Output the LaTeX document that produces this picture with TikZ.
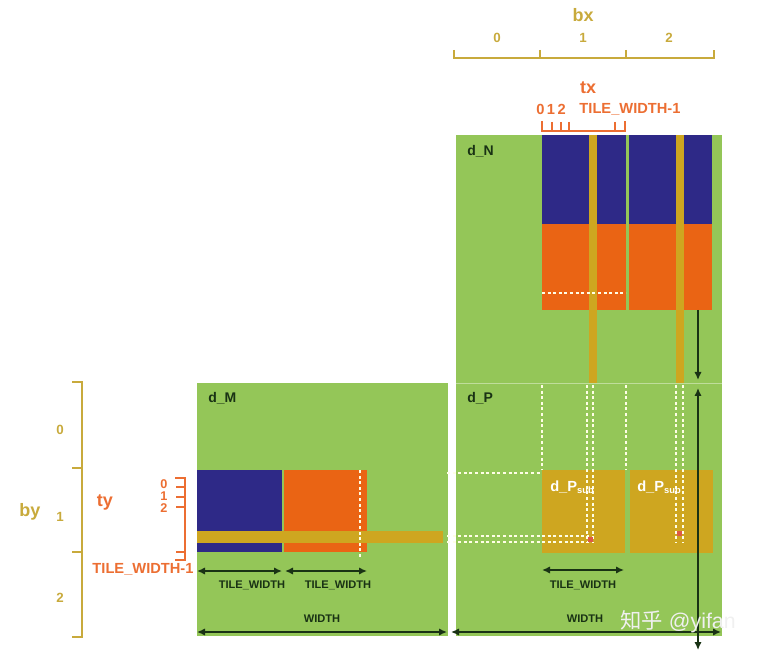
\documentclass[tikz,border=0pt]{standalone}
\usepackage{fontspec}
\setmainfont{Liberation Sans}
\newfontfamily\cjkfont{Noto Sans CJK SC}
\usepackage{tikz}
\usepackage{xcolor}
\usetikzlibrary{arrows.meta}

\definecolor{matgreen}{RGB}{148,198,88}
\definecolor{tileblue}{RGB}{46,41,135}
\definecolor{tileorange}{RGB}{234,100,20}
\definecolor{tileyellow}{RGB}{206,166,32}
\definecolor{idxgold}{RGB}{200,170,60}
\definecolor{idxorange}{RGB}{236,110,50}
\definecolor{dimline}{RGB}{25,50,20}
\definecolor{hitred}{RGB}{222,90,70}

\tikzset{
  dotline/.style={color=white!90!yellow, line width=0.8pt, dash pattern=on 2.2pt off 2pt},
  dimarrow/.style={color=dimline, line width=1.1pt, {Latex[length=6pt,width=5.5pt]}-{Latex[length=6pt,width=5.5pt]}},
  matname/.style={anchor=west, inner sep=0.75pt, text=dimline, font=\bfseries\fontsize{10.5}{12}\selectfont},
  dimname/.style={inner sep=0.75pt, text=dimline, font=\bfseries\fontsize{8.3}{10}\selectfont},
  goldidx/.style={inner sep=0.75pt, text=idxgold, font=\bfseries\fontsize{10}{12}\selectfont},
  goldvar/.style={inner sep=0.75pt, text=idxgold, font=\bfseries\fontsize{13.5}{15}\selectfont},
  orangeidx/.style={inner sep=0.75pt, text=idxorange, font=\bfseries\fontsize{11}{12}\selectfont},
  orangevar/.style={inner sep=0.75pt, text=idxorange, font=\bfseries\fontsize{13.5}{15}\selectfont},
  subname/.style={anchor=west, inner sep=0.75pt, text=white, font=\bfseries\fontsize{11}{12}\selectfont},
}

\begin{document}
\begin{tikzpicture}[x=0.75pt,y=0.75pt,yscale=-1,xscale=1]
    \useasboundingbox (0,0) rectangle (760,655);

    %Matrices
    \draw [draw=none, fill=matgreen] (456,135) rectangle (722,383) ;
    \draw [draw=none, fill=matgreen] (456,383) rectangle (722,636) ;
    \draw [draw=none, fill=matgreen] (197,383) rectangle (448,636) ;
    \draw [color=white!40!matgreen, line width=0.6pt] (456,383) -- (722,383) ;

    %Tiles of d_N
    \draw [draw=none, fill=tileblue] (542,135) rectangle (626,224) ;
    \draw [draw=none, fill=tileblue] (629,135) rectangle (712,224) ;
    \draw [draw=none, fill=tileorange] (542,224) rectangle (626,310) ;
    \draw [draw=none, fill=tileorange] (629,224) rectangle (712,310) ;
    \draw [draw=none, fill=tileyellow] (589,135) rectangle (597,383) ;
    \draw [draw=none, fill=tileyellow] (676,135) rectangle (684,383) ;
    \draw [dotline] (542,293) -- (626,293) ;

    %Tiles of d_M
    \draw [draw=none, fill=tileblue] (197,470) rectangle (282,552) ;
    \draw [draw=none, fill=tileorange] (284,470) rectangle (367,552) ;
    \draw [draw=none, fill=tileyellow] (197,531) rectangle (443,543) ;
    \draw [dotline] (360,470) -- (360,557) ;

    %Tiles of d_P
    \draw [draw=none, fill=tileyellow] (542,470) rectangle (625,553) ;
    \draw [draw=none, fill=tileyellow] (630,470) rectangle (713,553) ;

    %Dotted guides
    \draw [dotline] (542,385) -- (542,470) ;
    \draw [dotline] (626,385) -- (626,470) ;
    \draw [dotline] (587,385) -- (587,542) ;
    \draw [dotline] (593,385) -- (593,542) ;
    \draw [dotline] (676,385) -- (676,542) ;
    \draw [dotline] (683,385) -- (683,542) ;
    \draw [dotline] (447,473) -- (542,473) ;
    \draw [dotline] (447,536) -- (589,536) ;
    \draw [dotline] (447,542) -- (589,542) ;

    %Hit elements
    \draw [draw=none, fill=hitred] (588,537) rectangle (593,542) ;
    \draw [draw=none, fill=hitred] (677,531) rectangle (682,536) ;

    %Dimension arrows
    \draw [color=dimline, line width=1.1pt, -{Latex[length=6pt,width=5.5pt]}] (698,310) -- (698,380) ;
    \draw [dimarrow] (698,388) -- (698,650) ;
    \draw [dimarrow] (197,632) -- (447,632) ;
    \draw [dimarrow] (451,632) -- (721,632) ;
    \draw [dimarrow] (197,571) -- (282,571) ;
    \draw [dimarrow] (285,571) -- (367,571) ;
    \draw [dimarrow] (542,570) -- (624,570) ;

    %Block index brackets
    \draw [color=idxgold, line width=1.2pt] (454,50) -- (454,58) -- (714,58) -- (714,50) ;
    \draw [color=idxgold, line width=1.2pt] (540,50) -- (540,58) ;
    \draw [color=idxgold, line width=1.2pt] (626,50) -- (626,58) ;
    \draw [color=idxgold, line width=1.2pt] (72,382) -- (82,382) -- (82,637) -- (72,637) ;
    \draw [color=idxgold, line width=1.2pt] (72,468) -- (82,468) ;
    \draw [color=idxgold, line width=1.2pt] (72,552) -- (82,552) ;

    %Thread index brackets
    \draw [color=idxorange, line width=1.2pt] (542,121) -- (542,131) -- (625,131) -- (625,121) ;
    \draw [color=idxorange, line width=1.2pt] (552,122) -- (552,131) ;
    \draw [color=idxorange, line width=1.2pt] (561,122) -- (561,131) ;
    \draw [color=idxorange, line width=1.2pt] (569,122) -- (569,131) ;
    \draw [color=idxorange, line width=1.2pt] (615,122) -- (615,131) ;
    \draw [color=idxorange, line width=1.2pt] (175,478) -- (185,478) -- (185,560) -- (175,560) ;
    \draw [color=idxorange, line width=1.2pt] (176,487) -- (185,487) ;
    \draw [color=idxorange, line width=1.2pt] (176,497) -- (185,497) ;
    \draw [color=idxorange, line width=1.2pt] (176,507) -- (185,507) ;
    \draw [color=idxorange, line width=1.2pt] (176,552) -- (185,552) ;

    % Text Node
    \draw (466,151) node (dN) [matname] {d\_N};
    % Text Node
    \draw (207,398) node (dM) [matname] {d\_M};
    % Text Node
    \draw (466,398) node (dP) [matname] {d\_P};
    % Text Node
    \draw (549,487) node (dPsubA) [subname] {d\_P\textsubscript{\fontsize{7}{8}\selectfont sub}};
    % Text Node
    \draw (636,487) node (dPsubB) [subname] {d\_P\textsubscript{\fontsize{7}{8}\selectfont sub}};
    % Text Node
    \draw (252,585) node (twA) [dimname] {TILE\_WIDTH};
    % Text Node
    \draw (338,585) node (twB) [dimname] {TILE\_WIDTH};
    % Text Node
    \draw (583,585) node (twC) [dimname] {TILE\_WIDTH};
    % Text Node
    \draw (322,619) node (wM) [dimname] {WIDTH};
    % Text Node
    \draw (585,619) node (wP) [dimname] {WIDTH};

    % Text Node
    \draw (583,15) node (bx) [goldvar] {bx};
    % Text Node
    \draw (497,38) node (bxA) [goldidx] {0};
    % Text Node
    \draw (583,38) node (bxB) [goldidx] {1};
    % Text Node
    \draw (669,38) node (bxC) [goldidx] {2};
    % Text Node
    \draw (30,512) node (by) [goldvar] {by};
    % Text Node
    \draw (60,430) node (byA) [goldidx] {0};
    % Text Node
    \draw (60,517) node (byB) [goldidx] {1};
    % Text Node
    \draw (60,598) node (byC) [goldidx] {2};

    % Text Node
    \draw (588,88) node (tx) [orangevar] {tx};
    % Text Node
    \draw (551,109) node (txA) [orangeidx] {0\,1\,2};
    % Text Node
    \draw (630,109) node (txB) [orangeidx] {TILE\_WIDTH-1};
    % Text Node
    \draw (105,502) node (ty) [orangevar] {ty};
    % Text Node
    \draw (164,484) node (tyA) [orangeidx, font=\bfseries\fontsize{9.5}{10}\selectfont] {0};
    % Text Node
    \draw (164,496) node (tyB) [orangeidx, font=\bfseries\fontsize{9.5}{10}\selectfont] {1};
    % Text Node
    \draw (164,508) node (tyC) [orangeidx, font=\bfseries\fontsize{9.5}{10}\selectfont] {2};
    % Text Node
    \draw (143,569) node (tyD) [orangeidx] {TILE\_WIDTH-1};

    % Text Node
    \draw (678,622) node (mark) [inner sep=0.75pt, text=white!88!gray, font=\fontsize{16}{18}\selectfont] {{\cjkfont 知乎} @yifan};

\end{tikzpicture}
\end{document}
